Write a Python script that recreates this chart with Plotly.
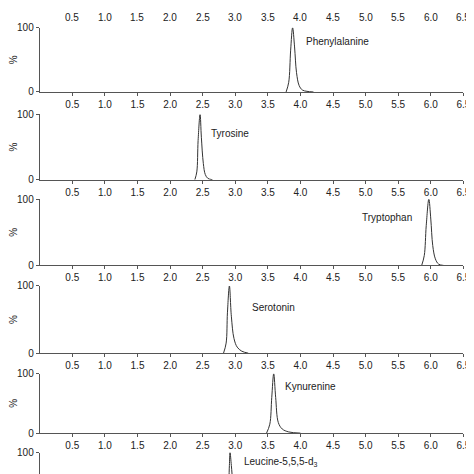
import plotly.graph_objects as go

compounds = ["Phenylalanine", "Tyrosine", "Tryptophan", "Serotonin", "Kynurenine", "Leucine-5,5,5-d<sub>3</sub>"]
peak_x = [
    [3.78, 3.82, 3.85, 3.88, 3.91, 3.94, 3.98, 4.03, 4.10, 4.20],
    [2.38, 2.41, 2.43, 2.46, 2.48, 2.51, 2.54, 2.58, 2.65],
    [5.86, 5.90, 5.93, 5.97, 6.00, 6.03, 6.07, 6.12, 6.20],
    [2.82, 2.86, 2.88, 2.91, 2.94, 2.98, 3.03, 3.10, 3.20],
    [3.48, 3.53, 3.56, 3.59, 3.62, 3.66, 3.72, 3.82, 4.00],
    [2.85, 2.89, 2.91, 2.92, 2.94, 2.97],
]
peak_y = [
    [0, 15, 65, 100, 70, 30, 10, 3, 1, 0],
    [0, 12, 60, 100, 65, 25, 8, 2, 0],
    [0, 15, 60, 100, 70, 30, 10, 2, 0],
    [0, 15, 60, 100, 55, 22, 9, 3, 0],
    [0, 15, 60, 100, 60, 18, 7, 2, 0],
    [0, 30, 80, 100, 80, 40],
]
label_x = [4.06, 2.6, 5.75, 3.23, 3.73, 3.1]
label_y = [78, 70, 72, 68, 78, 85]
label_anchor = ["left", "left", "right", "left", "left", "left"]
x_ticks = [0.5, 1.0, 1.5, 2.0, 2.5, 3.0, 3.5, 4.0, 4.5, 5.0, 5.5, 6.0, 6.5]

H = 474
tops = [14, 103, 190, 279, 369, 450]
bottoms = [80, 170, 258, 348, 430, 516]
x0, x1 = 24.5 / 474, 462 / 474
grey = "#555555"
font = dict(family="Liberation Sans, Arial", size=10, color="#222222")

fig = go.Figure()
for i in range(6):
    n = "" if i == 0 else str(i + 1)
    fig.add_trace(go.Scatter(x=peak_x[i], y=peak_y[i], mode="lines", line=dict(color="#333333", width=1, shape="spline"),
                             xaxis="x" + n, yaxis="y" + n, showlegend=False, hoverinfo="skip"))
    top_p = 1 - tops[i] / H
    bot_p = 1 - min(bottoms[i], H) / H
    if i < 5:
        yr = [0, 100]
    else:
        frac = (H - tops[i]) / (bottoms[i] - tops[i])
        yr = [100 - 100 * frac, 100]
    fig.layout["xaxis" + n] = dict(domain=[x0, x1], anchor="y" + n, range=[0, 6.5], tickvals=x_ticks,
                                  ticktext=["%.1f" % v for v in x_ticks], showline=(i < 5), linecolor=grey,
                                  ticks="outside" if i < 5 else "", ticklen=3, tickcolor=grey, showticklabels=(i < 5),
                                  showgrid=False, zeroline=False, tickfont=font)
    fig.layout["yaxis" + n] = dict(domain=[bot_p, top_p], anchor="x" + n, range=yr, tickvals=[0, 100],
                                  showline=True, linecolor=grey, ticks="outside", ticklen=3, tickcolor=grey,
                                  showgrid=False, zeroline=False, tickfont=font,
                                  title=dict(text="%" if i < 5 else "", font=font, standoff=2))
    fig.add_annotation(x=label_x[i], y=label_y[i], xref="x" + n, yref="y" + n, text=compounds[i],
                       showarrow=False, xanchor=label_anchor[i], font=font)

for v in x_ticks:
    fig.add_annotation(x=v, y=1, xref="x", yref="paper", text="%.1f" % v, showarrow=False,
                       yanchor="middle", yshift=-3, font=font)

fig.update_layout(width=474, height=474, margin=dict(l=0, r=0, t=0, b=0),
                  paper_bgcolor="white", plot_bgcolor="white")
fig.write_html("out.html")
